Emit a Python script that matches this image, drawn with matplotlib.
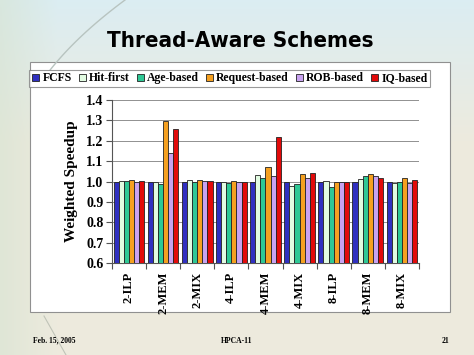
import numpy as np
import matplotlib.pyplot as plt
from matplotlib.patches import Rectangle

# Data
groups = ['2-ILP', '2-MEM', '2-MIX', '4-ILP', '4-MEM', '4-MIX', '8-ILP', '8-MEM', '8-MIX']
schemes = ['FCFS', 'Hit-first', 'Age-based', 'Request-based', 'ROB-based', 'IQ-based']
fcfs = [1.0, 1.0, 1.0, 1.0, 1.0, 1.0, 1.0, 1.0, 1.0]
hit_first = [1.003, 1.0, 1.006, 0.998, 1.03, 0.976, 1.005, 1.012, 0.995]
age_based = [1.003, 0.99, 1.0, 0.995, 1.02, 0.986, 0.975, 1.027, 0.997]
request_based = [1.01, 1.297, 1.008, 1.002, 1.07, 1.035, 1.0, 1.036, 1.02]
rob_based = [1.0, 1.141, 1.003, 0.997, 1.025, 1.018, 0.998, 1.027, 0.993]
iq_based = [1.003, 1.26, 1.003, 0.998, 1.22, 1.043, 1.0, 1.02, 1.008]
series = [fcfs, hit_first, age_based, request_based, rob_based, iq_based]
colors = ['#3030C0', '#E2FCE2', '#2EC895', '#F5A020', '#C8A2F0', '#E20A0A']

serif = ['Liberation Serif', 'DejaVu Serif']

fig = plt.figure(figsize=(4.74, 3.55), dpi=100)

# slide background (pixel coordinates)
bg = fig.add_axes([0, 0, 1, 1])
yy = np.linspace(0, 1, 200)[:, None]
xx = np.linspace(0, 1, 200)[None, :]
top = np.array([0.86, 0.93, 0.95])
base = np.array([0.93, 0.92, 0.87])
left = np.array([0.84, 0.89, 0.82])
t = np.clip((yy - 0.6) / 0.4, 0, 1)[..., None]
img = base * (1 - t) + top * t
l = np.clip(1 - xx / 0.12, 0, 1)[..., None] * 0.6
img = img * (1 - l) + left * l
bg.imshow(img, extent=[0, 474, 355, 0], origin='lower', aspect='auto')
cy = np.linspace(0, 70, 30)
bg.plot(125 - 1.35 * cy + 0.004 * cy ** 2, cy, color='#B8C4C0', lw=1.0)
bg.plot([44, 66], [316, 355], color='#C0C4B8', lw=0.8)
bg.set_xlim(0, 474)
bg.set_ylim(355, 0)
bg.axis('off')

# white panel
bg.add_patch(Rectangle((30, 62), 420, 250, facecolor='white', edgecolor='#909090', lw=0.8))

fig.text(0.507, 0.884, 'Thread-Aware Schemes', ha='center', va='center', fontsize=16,
         fontweight='bold', fontstretch='condensed', family='DejaVu Sans', color='black')

ax = fig.add_axes([0.236, 0.259, 0.648, 0.459])
x = np.arange(len(groups))
width = 0.15
for i, (name, vals, c) in enumerate(zip(schemes, series, colors)):
    ax.bar(x + (i - 2.5) * width, vals, width, color=c, edgecolor='#222222', linewidth=0.6, label=name, zorder=3)

ax.set_ylim(0.6, 1.4)
ax.set_xlim(-0.5, len(groups) - 0.5)
ax.set_yticks(np.arange(0.6, 1.41, 0.1))
ax.set_yticklabels([f'{v:.1f}' for v in np.arange(0.6, 1.41, 0.1)])
ax.yaxis.grid(True, color='#909090', lw=0.7, zorder=0)
ax.set_xticks(x)
ax.set_xticklabels(groups, rotation=90, va='top', ha='center')
ax.set_xticks(np.arange(-0.5, len(groups), 1), minor=True)
ax.tick_params(axis='x', which='major', length=0, pad=6)
ax.tick_params(axis='x', which='minor', length=4, width=0.8, color='#555555')
ax.tick_params(axis='y', length=4, width=0.8, color='#555555', pad=2)
for lab in ax.get_xticklabels() + ax.get_yticklabels():
    lab.set_family(serif)
    lab.set_fontweight('bold')
for lab in ax.get_xticklabels():
    lab.set_fontsize(9)
for lab in ax.get_yticklabels():
    lab.set_fontsize(10)
ax.set_ylabel('Weighted Speedup', family=serif, fontweight='bold', fontsize=11, labelpad=6)
ax.spines['top'].set_visible(False)
ax.spines['right'].set_visible(False)
ax.spines['left'].set_color('#555555')
ax.spines['bottom'].set_color('#555555')

handles, labels = ax.get_legend_handles_labels()
leg = fig.legend(handles, labels, loc='center', bbox_to_anchor=(0.485, 0.779), ncol=6,
                 prop={'family': serif, 'weight': 'bold', 'size': 8.5},
                 handlelength=0.6, handleheight=0.6, handletextpad=0.3, columnspacing=0.55,
                 borderpad=0.25, frameon=True, fancybox=False)
leg.get_frame().set_edgecolor('#808080')
leg.get_frame().set_linewidth(0.8)

foot = {'family': serif, 'fontweight': 'bold', 'fontsize': 5.5, 'va': 'center'}
fig.text(0.07, 0.04, 'Feb. 15, 2005', ha='left', **foot)
fig.text(0.5, 0.04, 'HPCA-11', ha='center', **foot)
fig.text(0.94, 0.04, '21', ha='center', **foot)

fig.savefig('out.png', dpi=100)
